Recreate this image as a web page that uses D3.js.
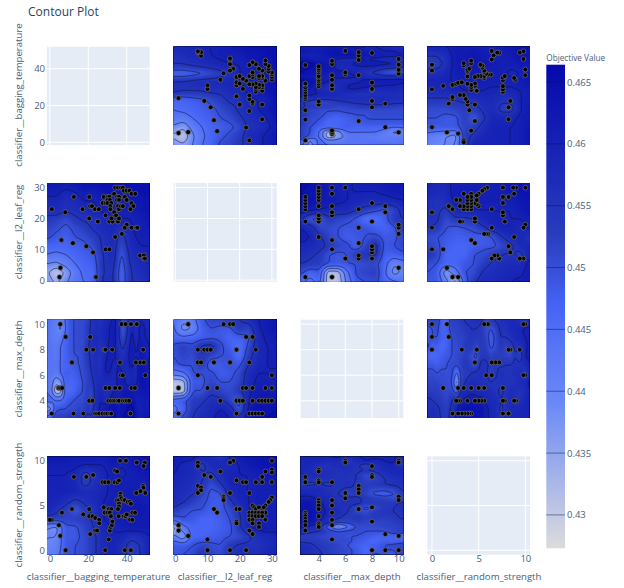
<!DOCTYPE html>
<html>
<head>
<meta charset="utf-8"/>
<title>Contour Plot</title>
<script src="https://d3js.org/d3.v7.min.js"></script>
<style>
  body { margin: 0; background: #fff; }
  text { font-family: "Open Sans", sans-serif; fill: #4a5d7c; }
</style>
</head>
<body>
<svg id="chart" width="624" height="588"></svg>
<script>
var paramNames = ["classifier__bagging_temperature", "classifier__l2_leaf_reg", "classifier__max_depth", "classifier__random_strength"];
var paramRanges = [[-1.5, 52], [-0.5, 31.5], [2.65, 10.35], [-0.5, 10.5]];
var paramTicks = [[0, 20, 40], [0, 10, 20, 30], [4, 6, 8, 10], [0, 5, 10]];
var colorTicks = [0.43, 0.435, 0.44, 0.445, 0.45, 0.455, 0.46, 0.465];
var colorDomain = [0.4273, 0.4664];

// plotly "Blues" reversed, position on the bar -> colour
var colorStops = [[0, "rgb(220,220,220)"], [0.3, "rgb(106,137,247)"], [0.4, "rgb(90,120,245)"], [0.5, "rgb(70,100,245)"], [0.65, "rgb(40,60,190)"], [1, "rgb(5,10,172)"]];

// sampled trials, [x param, y param]
var bagLeafPoints = [[1,23],[12.5,27],[8,22],[6,13],[12,12],[19,11],[22.5,9],[20.5,27],[17,23],[20.5,20],[21,24],[22,24],[23.5,23],[25.5,23],[25,19],[24,1],[5.5,4],[5,1],[29,10],[31,10],[29,21],[28,27],[30,27],[31,27],[27.5,25],[29,25],[30,26],[31.3,26],[30,25],[32,25],[31.5,24],[31.5,23],[31,19],[32.6,19],[32,20],[34,30],[35.5,30],[37,30],[38,30],[33.5,28],[35,27],[36,27],[35,26],[36,26],[33.5,22],[34.5,21],[35.5,24],[36,23],[37,24],[38,24],[39,27],[40,26],[38.5,29],[40,29],[41.5,29],[42.5,28],[44.5,28],[42.5,25],[43.5,24],[42,23],[35.5,19],[36,20],[40,18],[39,17],[42.5,17],[45,17],[45.6,17],[37.5,15],[34,14],[47,8],[49,8],[49,7],[49.5,7]];
var bagDepthPoints = [[5.4,10],[37.3,10],[39.4,10],[42.2,10],[45.3,10],[8.2,9],[21,9],[19,8],[22.5,8],[28.5,8],[29,8],[32.5,8],[48.6,8],[11.5,7],[36.5,7],[44.8,7],[47.2,7],[49,7],[37,6],[38,6],[49.7,6],[4.5,5],[5.4,5],[6.4,5],[29,5],[31,5],[34,5],[36.5,5],[42.5,5],[44.3,5],[20.5,4],[22.2,4],[30.5,4],[31.8,4],[33,4],[34,4],[35.2,4],[36,4],[38,4],[39,4],[40,4],[41.3,4],[1,3],[12.3,3],[17.4,3],[23.6,3],[24.6,3],[25.7,3],[27.4,3],[28.8,3],[29.9,3],[31.3,3],[32,3],[42,3]];
var bagRandPoints = [[36.5,10],[39.6,10],[45.3,9.8],[49.5,9.8],[48.8,9.4],[34,8.9],[35,8.8],[12.5,8.2],[19,8.2],[22.5,8.4],[27.4,7.6],[28.8,7.6],[30.5,7.6],[33.8,7.6],[35.2,7.6],[36,7.8],[48.6,7.2],[48.8,7],[47.2,6.6],[49.7,6.4],[45,6.4],[36.8,6.3],[36.8,6],[35,5.6],[36,5.6],[37.3,5.8],[38.2,5.6],[39,5.6],[40.6,5.4],[41.7,5.4],[42.2,5.2],[36,5.2],[36,4.9],[35.5,4.6],[28,4.8],[30.7,4.6],[32,4.6],[28.5,4.2],[30,4.2],[31.2,4.2],[31.8,3.8],[6.3,4.2],[11.5,4.6],[20.5,4.6],[17.4,4],[20.5,3.8],[22.2,3.8],[23.6,3.6],[25.7,3.4],[25.7,3],[23.6,2.2],[24.6,2.2],[21,1.8],[1,3.4],[0,3.4],[4.7,2.8],[5.4,1.6],[8.2,0],[28.8,0],[30.7,1.2],[31.2,2.2],[31.8,2.6],[32.3,2.8],[32.6,3.2],[35.8,3.8],[38.5,3.8],[39.4,3.8],[40,4],[41.8,3.4],[43,3.4],[43,4.2],[44.4,4.2],[39,0],[42.2,0]];
var leafDepthPoints = [[4,10],[15,10],[17,10],[18,10],[22,9],[24,9],[7,8],[9,8],[10,8],[11,8],[19,8],[25,8],[7,7],[8,7],[12,7],[17,7],[23,7],[7,6],[30,6],[1,5],[10,5],[13,5],[21,5],[22,5],[24,5],[28,5],[30,5],[14,4],[19,4],[20,4],[21,4],[24,4],[26,4],[27,4],[28,4],[29,4],[30,4],[1,3],[19,3],[23,3],[24,3],[25,3],[26,3],[27,3]];
var leafRandPoints = [[7,9.8],[7,9.4],[18,10],[17,9.8],[14,8.8],[9,8.4],[11,8.2],[28,8.8],[30,9],[30,8.7],[30,10],[27,8.2],[27,7.6],[19,7.8],[21,7.6],[22,7.6],[25,7.6],[30,7.6],[7,7.2],[8,7],[8,6.7],[7,6.4],[17,6.4],[23,6.4],[15,6],[15,5.8],[15,5.6],[30,5.9],[29.5,5.6],[29,5.4],[28,5],[12,4.6],[13,4.2],[19,4.6],[20,4.6],[24,5],[24.5,4.8],[25,4.6],[26,4.8],[27.5,4.8],[28,4.2],[23,4.2],[24,4.2],[25,4.2],[26,4.2],[27,4.2],[23,3.8],[24,3.8],[25,3.8],[26,3.8],[27,3.8],[23,3.4],[24,3.4],[28,3.4],[24,3],[26,3],[26,2.6],[19,3.2],[19,3],[23,2.2],[24,1.8],[1,2.8],[1,2.2],[4,1.6],[10,1.2],[10,0],[17,0],[22,0]];
var depthRandPoints = [[3,8.2],[3,7.6],[3,4.2],[3,4],[3,3.8],[3,3.5],[3,3.2],[3,2.8],[3,2.2],[4,9],[4,8.8],[4,7.8],[4,7.6],[4,5.6],[4,5.3],[4,5],[4,4.6],[4,3.8],[4,3],[4,2.8],[4,2.6],[5,7.6],[5,5.6],[5,5],[5,4.2],[5,3.4],[5,2.8],[5,1.2],[6,10],[6,9.8],[6,6.4],[6,5.8],[7,7.2],[7,6.8],[7,6.4],[7,4.6],[8,9.4],[8,8.4],[8,8.2],[8,4.8],[8,3.2],[8,0],[9,1.8],[9,0],[10,10],[10,9.8],[10,6],[10,5.6],[10,1.6],[10,0]];

// objective value in thousandths, evenly spaced over the axis ranges, first row = top of the picture
var bagLeafGrid = [
  [463,463,462,463,464,464,465,465,465,465,465,465],
  [461,461,459,460,462,461,463,464,463,464,465,465],
  [459,459,457,458,460,460,462,462,462,463,463,464],
  [457,458,456,457,458,459,461,461,461,461,463,464],
  [454,453,451,454,456,456,458,460,460,460,461,463],
  [452,451,449,451,453,456,458,459,456,460,461,462],
  [451,449,448,450,451,453,456,458,453,459,461,461],
  [447,447,447,448,449,451,456,458,451,458,460,460],
  [445,444,445,447,448,449,455,458,449,457,459,460],
  [440,439,442,445,447,448,455,457,448,456,458,459],
  [436,430,436,443,446,447,455,456,447,455,457,459],
  [438,434,439,444,445,447,456,456,447,455,456,458]
];
var bagDepthGrid = [
  [445,444,442,441,445,449,450,451,451,452,456,457,456,458,459,461,458,452,454,459,457,460,459,457],
  [445,443,442,439,444,449,450,451,451,453,456,457,457,459,460,462,456,449,455,460,458,461,460,458],
  [445,443,442,443,446,449,450,451,451,453,457,458,457,459,460,462,456,451,456,461,458,461,460,459],
  [445,444,443,445,447,449,450,451,451,454,457,458,456,458,461,461,457,454,458,462,459,462,461,460],
  [444,444,443,445,447,449,450,450,451,454,456,457,456,459,461,461,458,456,459,462,460,463,461,460],
  [444,444,444,445,447,448,449,450,451,453,456,457,456,460,461,459,460,459,459,461,458,464,462,459],
  [444,444,443,445,448,448,448,449,451,452,455,457,457,460,460,458,461,460,458,459,458,464,463,460],
  [444,442,436,438,447,447,447,448,450,452,454,457,458,458,458,458,461,462,458,459,459,464,464,462],
  [445,441,431,432,446,446,447,449,450,453,452,457,459,457,457,460,460,462,463,462,462,463,463,462],
  [447,447,445,445,447,449,450,451,451,453,451,457,460,458,460,464,461,463,464,464,461,461,462,461],
  [437,439,449,450,450,451,451,452,452,454,453,458,461,462,464,465,462,464,465,466,462,460,462,461],
  [447,450,453,453,453,454,455,455,455,456,456,459,462,463,465,466,463,465,466,466,463,461,463,462]
];
var bagRandGrid = [
  [463,463,463,462,462,462,461,463,464,462,463,464],
  [461,461,461,461,460,460,460,462,460,462,464,464],
  [460,460,460,459,453,456,459,461,459,461,462,463],
  [460,460,460,459,453,456,459,461,461,461,461,462],
  [460,460,460,459,458,458,459,461,461,462,461,460],
  [460,459,457,454,456,458,460,461,461,462,462,461],
  [460,456,453,449,453,456,460,461,462,463,463,462],
  [452,453,452,453,453,456,460,461,462,462,462,462],
  [440,438,449,449,452,455,459,460,461,462,462,462],
  [440,440,449,449,451,454,458,460,459,456,457,460],
  [440,441,449,450,451,454,458,460,457,453,455,460],
  [441,443,449,450,451,454,458,460,457,453,455,460]
];
var leafDepthGrid = [
  [445,441,443,449,452,452,454,455,457,460,462,463],
  [446,438,440,448,450,449,449,454,452,459,462,463],
  [447,446,447,448,449,449,447,448,449,458,461,462],
  [451,453,451,456,457,451,448,445,451,458,460,461],
  [450,452,451,455,452,450,450,445,453,458,460,461],
  [449,451,450,454,447,449,450,449,455,459,460,461],
  [442,444,450,450,451,448,449,451,458,460,460,459],
  [431,432,449,449,452,450,450,452,458,461,461,460],
  [431,431,450,450,454,452,451,454,459,462,462,462],
  [447,449,453,454,457,456,452,448,460,463,463,463],
  [443,447,454,456,458,460,458,449,461,465,464,465],
  [446,451,455,458,459,462,460,456,463,466,465,466]
];
var leafRandGrid = [
  [462,462,461,460,459,455,461,462,463,464,464,464],
  [461,459,458,453,458,459,458,460,462,463,464,464],
  [460,459,458,456,454,458,460,460,460,461,463,463],
  [459,458,457,455,451,455,460,460,460,461,461,462],
  [458,457,456,453,449,450,458,460,460,461,461,461],
  [458,456,453,451,449,448,454,459,460,461,461,460],
  [454,451,450,450,448,449,451,455,460,462,462,461],
  [448,450,449,447,447,448,450,454,460,462,461,461],
  [432,443,447,447,447,448,449,454,459,461,462,461],
  [442,436,447,447,448,449,450,451,454,457,458,459],
  [449,449,450,452,451,450,454,456,456,456,458,459],
  [449,450,451,455,452,451,455,457,457,457,459,460]
];
var depthRandGrid = [
  [460,460,460,460,461,459,460,461,461,461,460,460],
  [459,459,459,458,458,454,458,460,459,460,461,454],
  [459,459,456,456,458,457,456,452,456,459,459,456],
  [459,458,456,457,456,457,456,455,456,458,459,458],
  [458,458,458,457,456,456,455,451,453,456,458,458],
  [457,456,456,456,456,456,455,452,452,455,456,457],
  [455,454,455,454,456,457,454,453,454,455,456,457],
  [458,458,458,456,456,454,455,453,451,451,452,456],
  [459,459,458,457,455,452,454,452,449,448,450,454],
  [461,461,459,458,456,456,456,454,453,452,451,452],
  [464,464,461,458,456,457,456,454,454,454,454,456],
  [464,464,461,459,457,456,451,449,451,454,455,457],
  [465,465,462,459,458,455,452,451,454,455,455,456],
  [465,465,461,458,456,453,455,453,454,453,454,456],
  [464,464,460,457,452,452,453,452,452,452,453,454],
  [461,459,457,447,437,444,451,451,451,452,452,453],
  [458,456,455,452,450,451,451,450,450,450,452,453],
  [453,453,452,451,451,450,450,449,448,447,448,446],
  [454,454,453,452,451,451,449,448,446,448,447,448],
  [457,456,454,453,452,450,448,447,448,450,451,452],
  [458,457,455,453,452,451,449,446,448,450,450,452],
  [457,456,456,453,452,451,449,447,451,449,449,452]
];

// lookup by parameter pair "a,b" with a < b: grid x = a, grid y = b
var pairs = {
  "0,1": {grid: bagLeafGrid, points: bagLeafPoints},
  "0,2": {grid: bagDepthGrid, points: bagDepthPoints},
  "0,3": {grid: bagRandGrid, points: bagRandPoints},
  "1,2": {grid: leafDepthGrid, points: leafDepthPoints},
  "1,3": {grid: leafRandGrid, points: leafRandPoints},
  "2,3": {grid: depthRandGrid, points: depthRandPoints}
};

var colLeft = [47, 173.7, 300.7, 427.3], colRight = [149.7, 276.7, 403.3, 530];
var rowTop = [46.7, 183, 319.7, 456.3], rowBottom = [145, 281.7, 418, 554.7];
var xTitleAt = [98.5, 225, 352, 479], yTitleAt = [95, 232, 369, 505];

var svg = d3.select("#chart");
var defs = svg.append("defs");

var colorScale = d3.scaleLinear()
    .domain(colorStops.map(function(d) { return colorDomain[0] + d[0] * (colorDomain[1] - colorDomain[0]); }))
    .range(colorStops.map(function(d) { return d[1]; }));

var fillLevels = d3.range(colorDomain[0], colorDomain[1], 0.0005);
// nudged so a plateau sitting exactly on a level does not draw specks
var lineLevels = colorTicks.map(function(d) { return d + 0.00002; });

// smooth the coarse table up to a fine mesh for the contour generator
function fineMesh(grid, factor) {
  var ny = grid.length, nx = grid[0].length;
  var w = (nx - 1) * factor + 1, h = (ny - 1) * factor + 1;
  var data = new Array(w * h);
  for (var j = 0; j < h; j++) {
    var gy = j / factor, y0 = Math.min(Math.floor(gy), ny - 2), ty = gy - y0;
    for (var i = 0; i < w; i++) {
      var gx = i / factor, x0 = Math.min(Math.floor(gx), nx - 2), tx = gx - x0;
      data[j * w + i] = ((grid[y0][x0] * (1 - tx) + grid[y0][x0 + 1] * tx) * (1 - ty)
        + (grid[y0 + 1][x0] * (1 - tx) + grid[y0 + 1][x0 + 1] * tx) * ty) / 1000;
    }
  }
  d3.blur2({data: data, width: w, height: h}, 1);
  return {data: data, w: w, h: h};
}

function drawPanel(r, c) {
  var x = d3.scaleLinear().domain(paramRanges[c]).range([colLeft[c], colRight[c]]);
  var y = d3.scaleLinear().domain(paramRanges[r]).range([rowBottom[r], rowTop[r]]);
  var g = svg.append("g");

  g.append("rect")
      .attr("x", colLeft[c]).attr("y", rowTop[r])
      .attr("width", colRight[c] - colLeft[c]).attr("height", rowBottom[r] - rowTop[r])
      .attr("fill", "#E5ECF6");

  if (r == c) {
    g.selectAll(".vgrid").data(paramTicks[c]).enter().append("line")
        .attr("x1", x).attr("x2", x).attr("y1", rowTop[r]).attr("y2", rowBottom[r])
        .attr("stroke", "#fff").attr("stroke-width", 1);
    g.selectAll(".hgrid").data(paramTicks[r]).enter().append("line")
        .attr("y1", y).attr("y2", y).attr("x1", colLeft[c]).attr("x2", colRight[c])
        .attr("stroke", "#fff").attr("stroke-width", 1);
  } else {
    var flip = c > r;
    var pair = pairs[Math.min(r, c) + "," + Math.max(r, c)];
    // table rows run top to bottom, contours want low y first
    var grid = pair.grid.slice().reverse();
    if (flip) grid = d3.transpose(grid);
    var factor = 8, mesh = fineMesh(grid, factor);

    var project = d3.geoTransform({
      point: function(px, py) {
        var dx = paramRanges[c], dy = paramRanges[r];
        this.stream.point(
          x(dx[0] + (px - 0.5) / (mesh.w - 1) * (dx[1] - dx[0])),
          y(dy[0] + (py - 0.5) / (mesh.h - 1) * (dy[1] - dy[0])));
      }
    });
    var path = d3.geoPath(project);
    var contours = d3.contours().size([mesh.w, mesh.h]);

    var clipId = "clip-" + r + "-" + c;
    defs.append("clipPath").attr("id", clipId).append("rect")
        .attr("x", colLeft[c]).attr("y", rowTop[r])
        .attr("width", colRight[c] - colLeft[c]).attr("height", rowBottom[r] - rowTop[r]);
    var inner = g.append("g").attr("clip-path", "url(#" + clipId + ")");

    inner.selectAll(".band")
        .data(contours.thresholds(fillLevels)(mesh.data))
      .enter().append("path")
        .attr("d", path)
        .attr("fill", function(d) { return colorScale(d.value); });

    inner.selectAll(".level")
        .data(contours.thresholds(lineLevels)(mesh.data))
      .enter().append("path")
        .attr("d", path)
        .attr("fill", "none")
        .attr("stroke", "#10143c")
        .attr("stroke-opacity", 0.7)
        .attr("stroke-width", 0.8);

    g.selectAll("circle")
        .data(pair.points)
      .enter().append("circle")
        .attr("cx", function(d) { return x(flip ? d[1] : d[0]); })
        .attr("cy", function(d) { return y(flip ? d[0] : d[1]); })
        .attr("r", 2.4)
        .attr("fill", "#000")
        .attr("stroke", "#6e6e6e")
        .attr("stroke-width", 0.7);
  }

  if (c == 0) {
    g.append("g")
        .attr("transform", "translate(" + colLeft[0] + ",0)")
        .call(d3.axisLeft(y).tickValues(paramTicks[r]).tickSize(0).tickPadding(2).tickFormat(d3.format("d")))
        .call(styleAxis);
  }
  if (r == 3) {
    g.append("g")
        .attr("transform", "translate(0," + rowBottom[3] + ")")
        .call(d3.axisBottom(x).tickValues(paramTicks[c]).tickSize(0).tickPadding(1).tickFormat(d3.format("d")))
        .call(styleAxis);
  }
}

function styleAxis(sel) {
  sel.select(".domain").remove();
  sel.attr("font-family", null).attr("font-size", null);
  sel.selectAll("text").style("font-size", "9.5px");
}

for (var r = 0; r < 4; r++) {
  for (var c = 0; c < 4; c++) drawPanel(r, c);
}

svg.append("g").selectAll("text")
    .data(paramNames)
  .enter().append("text")
    .attr("x", function(d, i) { return xTitleAt[i]; })
    .attr("y", 580)
    .attr("text-anchor", "middle")
    .style("font-size", "9.6px")
    .text(function(d) { return d; });

svg.append("g").selectAll("text")
    .data(paramNames)
  .enter().append("text")
    .attr("transform", function(d, i) { return "translate(22," + yTitleAt[i] + ") rotate(-90)"; })
    .attr("text-anchor", "middle")
    .style("font-size", "9.6px")
    .text(function(d) { return d; });

svg.append("text")
    .attr("x", 28)
    .attr("y", 16)
    .style("font-size", "12px")
    .style("fill", "#2a3f5f")
    .text("Contour Plot");

// colour bar
var barLeft = 546.3, barRight = 565, barTop = 64.7, barBottom = 548.3;
var barY = d3.scaleLinear().domain(colorDomain).range([barBottom, barTop]);

var gradient = defs.append("linearGradient")
    .attr("id", "bar-gradient")
    .attr("x1", 0).attr("y1", 1).attr("x2", 0).attr("y2", 0);
gradient.selectAll("stop")
    .data(colorStops)
  .enter().append("stop")
    .attr("offset", function(d) { return d[0]; })
    .attr("stop-color", function(d) { return d[1]; });

svg.append("rect")
    .attr("x", barLeft).attr("y", barTop)
    .attr("width", barRight - barLeft).attr("height", barBottom - barTop)
    .attr("fill", "url(#bar-gradient)");

svg.append("g").selectAll("line")
    .data(colorTicks)
  .enter().append("line")
    .attr("x1", barLeft).attr("x2", barRight)
    .attr("y1", barY).attr("y2", barY)
    .attr("stroke", "#10143c")
    .attr("stroke-opacity", 0.6)
    .attr("stroke-width", 0.8);

svg.append("g")
    .attr("transform", "translate(" + barRight + ",0)")
    .call(d3.axisRight(barY).tickValues(colorTicks).tickSize(0).tickPadding(2).tickFormat(d3.format("~g")))
    .call(styleAxis);

svg.append("text")
    .attr("x", barLeft)
    .attr("y", 61)
    .style("font-size", "8.2px")
    .text("Objective Value");
</script>
</body>
</html>
